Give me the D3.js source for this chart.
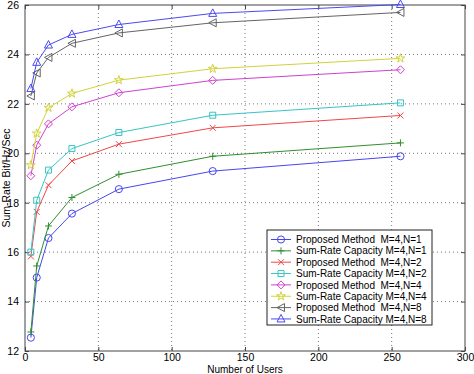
<!DOCTYPE html>
<html><head><meta charset="utf-8">
<script src="https://cdn.jsdelivr.net/npm/d3@7"></script>
<style>
body{margin:0;background:#fff;}
svg{display:block;font-family:"Liberation Sans",Arial,Helvetica,sans-serif;}
</style></head>
<body>
<script>
const users = [4, 8, 16, 32, 64, 128, 256];
const propN1 = [12.54, 14.97, 16.57, 17.56, 18.55, 19.28, 19.88];
const capN1  = [12.77, 15.44, 17.06, 18.21, 19.15, 19.88, 20.42];
const propN2 = [15.83, 17.63, 18.71, 19.69, 20.37, 21.03, 21.53];
const capN2  = [16.00, 18.10, 19.32, 20.19, 20.84, 21.54, 22.04];
const propN4 = [19.09, 20.33, 21.19, 21.88, 22.45, 22.95, 23.38];
const capN4  = [19.52, 20.80, 21.84, 22.42, 22.96, 23.42, 23.84];
const propN8 = [22.32, 23.25, 23.88, 24.45, 24.87, 25.28, 25.70];
const capN8  = [22.62, 23.68, 24.38, 24.81, 25.21, 25.66, 26.02];
const seriesNames = [
  "Proposed Method  M=4,N=1", "Sum-Rate Capacity M=4,N=1",
  "Proposed Method  M=4,N=2", "Sum-Rate Capacity M=4,N=2",
  "Proposed Method  M=4,N=4", "Sum-Rate Capacity M=4,N=4",
  "Proposed Method  M=4,N=8", "Sum-Rate Capacity M=4,N=8"
];
const xTicks = [0, 50, 100, 150, 200, 250, 300];
const yTicks = [12, 14, 16, 18, 20, 22, 24, 26];
const xLabel = "Number of Users";
const yLabel = "Sum-Rate Bit/Hz/Sec";

const values = [propN1, capN1, propN2, capN2, propN4, capN4, propN8, capN8];
const colors = ["#4646f0", "#2f8f2f", "#f04848", "#38c4c4", "#d040d0", "#d2d23a", "#646464", "#4a4af4"];
const markers = ["circle", "plus", "x", "square", "diamond", "star", "tleft", "tup"];

const W = 474, H = 374;
const L = 25, R = 465, T = 5, B = 351;
const svg = d3.select("body").append("svg").attr("width", W).attr("height", H);
const x = d3.scaleLinear().domain([0, 300]).range([L, R]);
const y = d3.scaleLinear().domain([12, 26]).range([B, T]);

// grid
const g = svg.append("g");
g.selectAll("line.gx").data(xTicks.slice(1, -1)).enter().append("line")
  .attr("x1", d => x(d)).attr("x2", d => x(d)).attr("y1", T).attr("y2", B)
  .attr("stroke", "#555").attr("stroke-width", 0.8).attr("stroke-dasharray", "1,3");
g.selectAll("line.gy").data(yTicks.slice(1, -1)).enter().append("line")
  .attr("y1", d => y(d)).attr("y2", d => y(d)).attr("x1", L).attr("x2", R)
  .attr("stroke", "#555").attr("stroke-width", 0.8).attr("stroke-dasharray", "1,3");

// axes (inside ticks, box)
const fs = "10.5px";
svg.append("g").attr("transform", `translate(0,${B})`)
  .call(d3.axisBottom(x).tickValues(xTicks).tickSize(-4).tickPadding(3).tickSizeOuter(0))
  .call(a => a.selectAll("text").attr("font-size", fs).attr("fill", "#000"));
svg.append("g").attr("transform", `translate(0,${T})`)
  .call(d3.axisTop(x).tickValues(xTicks).tickSize(-4).tickFormat("").tickSizeOuter(0));
svg.append("g").attr("transform", `translate(${L},0)`)
  .call(d3.axisLeft(y).tickValues(yTicks).tickSize(-4).tickPadding(6).tickSizeOuter(0))
  .call(a => a.selectAll("text").attr("font-size", fs).attr("fill", "#000"));
svg.append("g").attr("transform", `translate(${R},0)`)
  .call(d3.axisRight(y).tickValues(yTicks).tickSize(-4).tickFormat("").tickSizeOuter(0));
svg.selectAll(".domain").remove();
svg.selectAll(".tick line").attr("stroke", "#444");
svg.append("rect").attr("x", L).attr("y", T).attr("width", R - L).attr("height", B - T)
  .attr("fill", "none").attr("stroke", "#444").attr("stroke-width", 1);

// labels
svg.append("text").attr("x", (L + R) / 2).attr("y", 373).attr("text-anchor", "middle")
  .attr("font-size", "10px").text(xLabel);
svg.append("text").attr("transform", `translate(10,${(T + B) / 2}) rotate(-90)`)
  .attr("text-anchor", "middle").attr("font-size", "10.5px").text(yLabel);

function markerPath(type) {
  const r = 3.5;
  switch (type) {
    case "circle": return d3.symbol(d3.symbolCircle, 40)();
    case "plus": return `M${-r},0H${r}M0,${-r}V${r}`;
    case "x": return `M${-r*0.85},${-r*0.85}L${r*0.85},${r*0.85}M${-r*0.85},${r*0.85}L${r*0.85},${-r*0.85}`;
    case "square": return `M-3,-3H3V3H-3Z`;
    case "diamond": return `M0,-4L4,0L0,4L-4,0Z`;
    case "star": return d3.symbol(d3.symbolStar, 24)();
    case "tleft": return `M-4,0L3.5,-4L3.5,4Z`;
    case "tup": return `M0,-4.5L4,3L-4,3Z`;
  }
}

const line = d3.line().x((d, i) => x(users[i])).y(d => y(d));
values.forEach((vals, si) => {
  const sg = svg.append("g");
  sg.append("path").datum(vals).attr("d", line).attr("fill", "none")
    .attr("stroke", colors[si]).attr("stroke-width", 1);
  sg.selectAll("path.m").data(vals).enter().append("path")
    .attr("transform", (d, i) => `translate(${x(users[i])},${y(d)})`)
    .attr("d", markerPath(markers[si])).attr("fill", "none")
    .attr("stroke", colors[si]).attr("stroke-width", 1);
});

// legend
const lg = svg.append("g");
const lx = 267, ly = 230, lw = 165, lh = 95;
lg.append("rect").attr("x", lx).attr("y", ly).attr("width", lw).attr("height", lh)
  .attr("fill", "#fff").attr("stroke", "#222").attr("stroke-width", 1);
seriesNames.forEach((name, i) => {
  const cy = 239.5 + i * 11.35;
  lg.append("line").attr("x1", 271).attr("x2", 291).attr("y1", cy).attr("y2", cy)
    .attr("stroke", colors[i]).attr("stroke-width", 1);
  lg.append("path").attr("transform", `translate(281,${cy})`).attr("d", markerPath(markers[i]))
    .attr("fill", "none").attr("stroke", colors[i]).attr("stroke-width", 1);
  lg.append("text").attr("x", 296).attr("y", cy + 3.6).attr("font-size", "10px")
    .attr("xml:space", "preserve").style("white-space", "pre").text(name);
});
</script>
</body></html>
